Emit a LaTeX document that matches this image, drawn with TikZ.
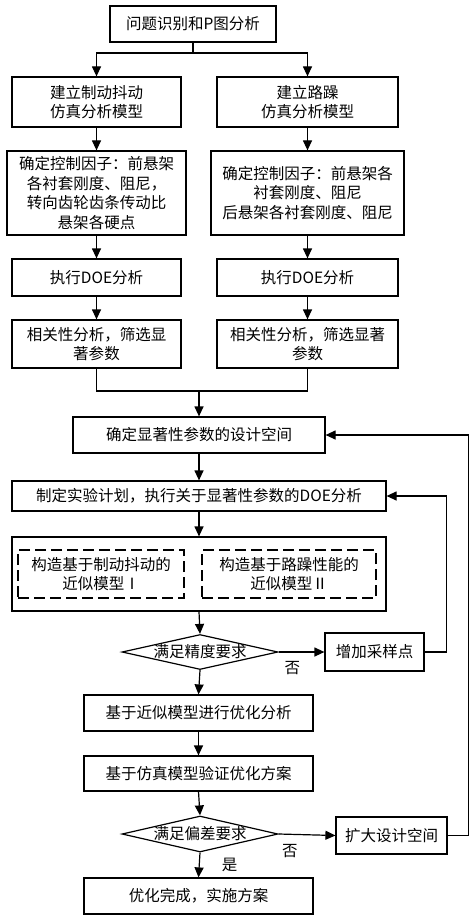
\documentclass[tikz,border=0pt]{standalone}
\usepackage{fontspec}
\setmainfont{Noto Sans CJK SC}
\usetikzlibrary{arrows.meta,shapes.geometric}

\begin{document}
\begin{tikzpicture}[x=1pt, y=-1pt,
		box/.style={draw, line width=1.2pt, inner sep=0pt, align=center, font=\fontsize{15.5}{19.5}\selectfont},
		dashbox/.style={box, dash pattern=on 11pt off 5pt},
		decide/.style={draw, diamond, line width=1.2pt, inner sep=0pt},
		txt/.style={font=\fontsize{15.5}{19.5}\selectfont, inner sep=0pt},
		arr/.style={line width=1.2pt, -{Triangle[length=10pt,width=9pt]}},
		ln/.style={line width=1.2pt}]
			\useasboundingbox (0,0) rectangle (474,920);
			\node[box, minimum width=166pt, minimum height=36pt] (pid) at (193, 24) {问题识别和P图分析};
			\node[box, minimum width=169pt, minimum height=50pt] (brakemodel) at (96.5, 102) {建立制动抖动\\仿真分析模型};
			\node[box, minimum width=181pt, minimum height=50pt] (roadmodel) at (307.5, 102) {建立路躁\\仿真分析模型};
			\node[box, minimum width=179pt, minimum height=84pt] (brakefactor) at (96.5, 193) {确定控制因子：前悬架\\各衬套刚度、阻尼，\\转向齿轮齿条传动比\\悬架各硬点};
			\node[box, minimum width=193pt, minimum height=84pt] (roadfactor) at (307.5, 193) {确定控制因子：前悬架各\\衬套刚度、阻尼\\后悬架各衬套刚度、阻尼};
			\node[box, minimum width=169pt, minimum height=37pt] (brakedoe) at (96.5, 277.5) {执行DOE分析};
			\node[box, minimum width=181pt, minimum height=37pt] (roaddoe) at (307.5, 277.5) {执行DOE分析};
			\node[box, minimum width=169pt, minimum height=48pt] (brakecorr) at (96.5, 344) {相关性分析，筛选显\\著参数};
			\node[box, minimum width=181pt, minimum height=48pt] (roadcorr) at (307.5, 344) {相关性分析，筛选显著\\参数};
			\node[box, minimum width=252pt, minimum height=36pt] (space) at (199, 435) {确定显著性参数的设计空间};
			\node[box, minimum width=374pt, minimum height=30pt] (plan) at (199, 496) {制定实验计划，执行关于显著性参数的DOE分析};
			\node[box, minimum width=374pt, minimum height=74pt] (approx) at (199, 574) {};
			\node[dashbox, minimum width=166pt, minimum height=48pt] (approxI) at (101, 574) {构造基于制动抖动的\\近似模型Ⅰ};
			\node[dashbox, minimum width=174pt, minimum height=48pt] (approxII) at (289, 574) {构造基于路躁性能的\\近似模型Ⅱ};
			\node[decide, minimum width=156pt, minimum height=35pt] (accuracy) at (200, 652) {};
			\node[txt] (accuracytext) at (accuracy) {满足精度要求};
			\node[box, minimum width=99pt, minimum height=38pt] (addpt) at (374.5, 652) {增加采样点};
			\node[box, minimum width=229pt, minimum height=36pt] (optimize) at (198.5, 713) {基于近似模型进行优化分析};
			\node[box, minimum width=229pt, minimum height=35pt] (verify) at (198.5, 773.5) {基于仿真模型验证优化方案};
			\node[decide, minimum width=156pt, minimum height=36pt] (deviation) at (200, 834) {};
			\node[txt] (deviationtext) at (deviation) {满足偏差要求};
			\node[box, minimum width=111pt, minimum height=37pt] (expand) at (391.5, 835.5) {扩大设计空间};
			\node[box, minimum width=229pt, minimum height=36pt] (done) at (198.5, 896) {优化完成，实施方案};
			\coordinate (split) at (193, 53);
			\coordinate (merge) at (199, 391);
			\draw[ln] (pid.south) -- (split);
			\draw[arr] (split) -| (brakemodel.north);
			\draw[arr] (split) -| (roadmodel.north);
			\draw[arr] (brakemodel) -- (brakefactor);
			\draw[arr] (roadmodel) -- (roadfactor);
			\draw[arr] (brakefactor) -- (brakedoe);
			\draw[arr] (roadfactor) -- (roaddoe);
			\draw[arr] (brakedoe) -- (brakecorr);
			\draw[arr] (roaddoe) -- (roadcorr);
			\draw[ln] (brakecorr.south) |- (merge) -| (roadcorr.south);
			\draw[arr] (merge) -- (space.north);
			\draw[arr] (space) -- (plan);
			\draw[arr] (plan) -- (approx);
			\draw[arr] (approx.south) -- (accuracy.north);
			\draw[arr] (accuracy.east) -- node[txt, below=9pt, pos=0.3] (no1) {否} (addpt.west);
			\draw[arr] (addpt.east) -- ++(22, 0) |- (plan.east);
			\draw[arr] (accuracy.south) -- (optimize.north);
			\draw[arr] (optimize) -- (verify);
			\draw[arr] (verify.south) -- (deviation.north);
			\draw[arr] (deviation.east) -- node[txt, below=9pt, pos=0.2] (no2) {否} (expand.west);
			\draw[arr] (expand.east) -- ++(21, 0) |- (space.east);
			\draw[arr] (deviation.south) -- node[txt, right=22pt] (yes) {是} (done.north);
		\end{tikzpicture}
\end{document}
